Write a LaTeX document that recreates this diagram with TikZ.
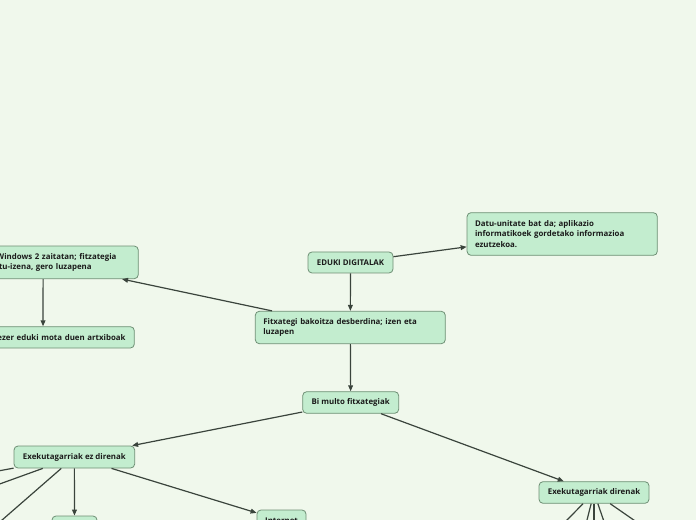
\documentclass[tikz,border=0pt]{standalone}
\usepackage{fontspec}
\setmainfont{Open Sans}
\usetikzlibrary{arrows.meta}
\definecolor{bgc}{HTML}{F0F8EC}
\definecolor{boxfill}{HTML}{C3EDCF}
\definecolor{boxdraw}{HTML}{6E8F74}
\definecolor{linec}{HTML}{3A443C}
\definecolor{txtc}{HTML}{1A1A1A}
\tikzset{
  box/.style={draw=boxdraw, fill=boxfill, rounded corners=3pt, line width=0.6pt,
    font=\fontsize{5.9}{8}\selectfont\bfseries, text=txtc, inner ysep=0pt},
  boxl/.style={box, align=left, inner xsep=6pt},
  boxc/.style={box, align=center, inner xsep=2pt},
  conn/.style={draw=linec, line width=0.9pt, -{Triangle[length=4.5pt,width=3.6pt]}},
  link/.style={draw=linec, line width=0.9pt}
}
\begin{document}
\begin{tikzpicture}[x=0.75pt,y=-0.75pt]
\useasboundingbox (0,0) rectangle (696,520);
\fill[bgc] (0,0) rectangle (696,520);
\clip (0,0) rectangle (696,520);
% nodes
\node[boxc, minimum width=63.75pt, minimum height=15.75pt] (eduki) at (350.5,262.5) {EDUKI DIGITALAK};
\node[boxl, text width=130.7pt, minimum height=32pt] (datu) at (562.2,234) {Datu-unitate bat da; aplikazio\\informatikoek gordetako informazioa\\ezutzekoa.};
\node[boxl, text width=130.5pt, minimum height=24.3pt] (fitx) at (350.3,327.5) {Fitxategi bakoitza desberdina; izen eta\\luzapen};
\node[boxl, text width=130.7pt, minimum height=24.5pt] (win) at (43.15,262.35) {\hspace*{30.5pt}Windows 2 zaitatan; fitzategia\\\hspace*{32.3pt}tu-izena, gero luzapena};
\node[box, align=right, inner xsep=6.6pt, text width=123.8pt, minimum height=16pt] (zer) at (43,337.35) {ezer eduki mota duen artxiboak};
\node[boxc, minimum width=72pt, minimum height=16.2pt] (bi) at (350.7,402.5) {Bi multo fitxategiak};
\node[boxc, minimum width=90.5pt, minimum height=16.5pt] (exez) at (74.35,457) {Exekutagarriak ez direnak};
\node[boxc, minimum width=82.5pt, minimum height=16.2pt] (ex) at (594,492.5) {Exekutagarriak direnak};
\node[boxc, minimum width=36.75pt, minimum height=15.75pt] (inet) at (281.5,520.5) {Internet};
\node[boxc, minimum width=33.75pt, minimum height=15.75pt] (hid) at (74.5,526.5) {};
% off-canvas ends
\coordinate (l1) at (-100,489);
\coordinate (l2) at (-100,520);
\coordinate (l3) at (-50,565.4);
\coordinate (d1) at (488.6,600);
\coordinate (d2) at (566.6,600);
\coordinate (d3) at (594,600);
\coordinate (d4) at (631,600);
\coordinate (d5) at (749.4,600);
% connectors
\draw[conn] (eduki) -- (datu);
\draw[conn] (eduki) -- (fitx);
\draw[conn] (fitx) -- (win);
\draw[conn] (win) -- (zer);
\draw[conn] (fitx) -- (bi);
\draw[conn] (bi) -- (exez);
\draw[conn] (bi) -- (ex);
\draw[conn] (exez) -- (inet);
\draw[conn] (exez) -- (hid);
\draw[link] (exez) -- (l1);
\draw[link] (exez) -- (l2);
\draw[link] (exez) -- (l3);
\draw[link] (ex) -- (d1);
\draw[link] (ex) -- (d2);
\draw[link] (ex) -- (d3);
\draw[link] (ex) -- (d4);
\draw[link] (ex) -- (d5);
\end{tikzpicture}
\end{document}
